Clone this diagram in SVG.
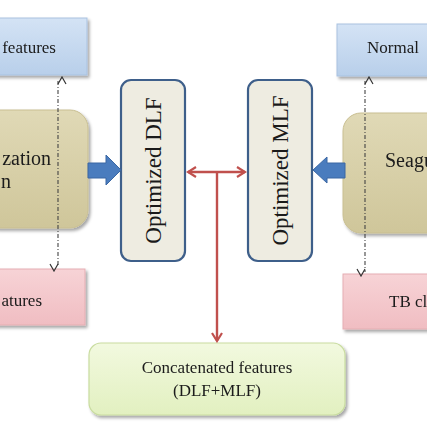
<svg xmlns="http://www.w3.org/2000/svg" width="427" height="427" viewBox="0 0 427 427">
  <defs>
    <filter id="sh" x="-20%" y="-20%" width="140%" height="140%">
      <feDropShadow dx="2" dy="2.5" stdDeviation="1.5" flood-color="#000" flood-opacity="0.35"/>
    </filter>
    <linearGradient id="gBlue" x1="0" y1="0" x2="0" y2="1">
      <stop offset="0" stop-color="#D4E3F5"/>
      <stop offset="1" stop-color="#B8CFEA"/>
    </linearGradient>
    <linearGradient id="gPink" x1="0" y1="0" x2="0" y2="1">
      <stop offset="0" stop-color="#F7D3D6"/>
      <stop offset="1" stop-color="#F0BDC2"/>
    </linearGradient>
    <linearGradient id="gTan" x1="0" y1="0" x2="0" y2="1">
      <stop offset="0" stop-color="#E0D9B6"/>
      <stop offset="1" stop-color="#CFC69A"/>
    </linearGradient>
    <linearGradient id="gGreen" x1="0" y1="0" x2="0" y2="1">
      <stop offset="0" stop-color="#F2F9DF"/>
      <stop offset="1" stop-color="#E2F0C0"/>
    </linearGradient>
    <marker id="vRed" viewBox="0 0 12 12" refX="10" refY="6" markerWidth="12" markerHeight="12" markerUnits="userSpaceOnUse" orient="auto-start-reverse">
      <path d="M2,1 L10,6 L2,11" fill="none" stroke="#C0504D" stroke-width="2.2"/>
    </marker>
    <marker id="vDash" viewBox="0 0 10 10" refX="5" refY="1" markerWidth="10" markerHeight="10" markerUnits="userSpaceOnUse" orient="auto-start-reverse">
      <path d="M1,8 L5,1 L9,8" fill="none" stroke="#333" stroke-width="1.2" transform="rotate(90 5 5)"/>
    </marker>
    <style>
      .t { font-family: "Liberation Serif", "Times New Roman", serif; fill: #1a1a1a; }
      .s17 { font-size: 17px; }
      .s20 { font-size: 20px; }
      .s23 { font-size: 23px; }
      .blue { fill: url(#gBlue); stroke: #A9C2E0; stroke-width: 1; }
      .pink { fill: url(#gPink); stroke: #E5AEB3; stroke-width: 1; }
      .tan { fill: url(#gTan); stroke: #C9BF92; stroke-width: 1; }
      .opt { fill: #EEECE1; stroke: #3E5F8A; stroke-width: 2.2; }
      .green { fill: url(#gGreen); stroke: #C9DCA0; stroke-width: 1.2; }
      .barrow { fill: #4A7CBE; stroke: #3A67A3; stroke-width: 1; }
      .red { fill: none; stroke: #C0504D; stroke-width: 2.4; }
      .dash { fill: none; stroke: #444; stroke-width: 1.1; stroke-dasharray: 4 2 1 2; }
    </style>
  </defs>

  <g id="node-left-top" filter="url(#sh)">
    <rect class="blue" x="-10" y="18" width="97" height="57"/>
    <text class="t s17" x="56" y="53" text-anchor="end">features</text>
  </g>
  <g id="node-left-mid" filter="url(#sh)">
    <rect class="tan" x="-20" y="110" width="108" height="118" rx="18"/>
    <text class="t s20" x="51" y="165" text-anchor="end">zation</text>
    <text class="t s20" x="11" y="188" text-anchor="end">n</text>
  </g>
  <g id="node-left-bottom" filter="url(#sh)">
    <rect class="pink" x="-10" y="269" width="95" height="56"/>
    <text class="t s17" x="42" y="306" text-anchor="end">atures</text>
  </g>

  <g id="node-dlf">
    <rect class="opt" x="121" y="80" width="64" height="181" rx="10"/>
    <text class="t s23" transform="translate(161 170.5) rotate(-90)" text-anchor="middle">Optimized DLF</text>
  </g>
  <g id="node-mlf">
    <rect class="opt" x="248" y="80" width="64" height="181" rx="10"/>
    <text class="t s23" transform="translate(288 170.5) rotate(-90)" text-anchor="middle">Optimized MLF</text>
  </g>

  <g id="node-right-top" filter="url(#sh)">
    <rect class="blue" x="337" y="24" width="100" height="52"/>
    <text class="t s17" x="367" y="53">Normal</text>
  </g>
  <g id="node-right-mid" filter="url(#sh)">
    <rect class="tan" x="343" y="113" width="110" height="120" rx="18"/>
    <text class="t s20" x="385" y="167">Seagu</text>
  </g>
  <g id="node-right-bottom" filter="url(#sh)">
    <rect class="pink" x="343" y="274" width="100" height="55"/>
    <text class="t s17" x="389" y="307">TB cl</text>
  </g>

  <g id="node-concat" filter="url(#sh)">
    <rect class="green" x="89" y="343" width="256" height="72" rx="12"/>
    <text class="t s17" x="217" y="373" text-anchor="middle">Concatenated features</text>
    <text class="t s17" x="217" y="396" text-anchor="middle">(DLF+MLF)</text>
  </g>

  <g id="connectors">
    <polygon class="barrow" points="88,163 106,163 106,155 121,170 106,185 106,178 88,178"/>
    <polygon class="barrow" points="345,163 327,163 327,157 313,170 327,183 327,178 345,178"/>
    <line class="red" x1="188" y1="172" x2="245" y2="172" marker-start="url(#vRed)" marker-end="url(#vRed)"/>
    <line class="red" x1="217" y1="172" x2="217" y2="341" marker-end="url(#vRed)"/>
    <line class="dash" x1="58" y1="81" x2="58" y2="267" marker-start="url(#vDash)" marker-end="url(#vDash)"/>
    <line class="dash" x1="365" y1="81" x2="365" y2="272" marker-start="url(#vDash)" marker-end="url(#vDash)"/>
  </g>
</svg>
